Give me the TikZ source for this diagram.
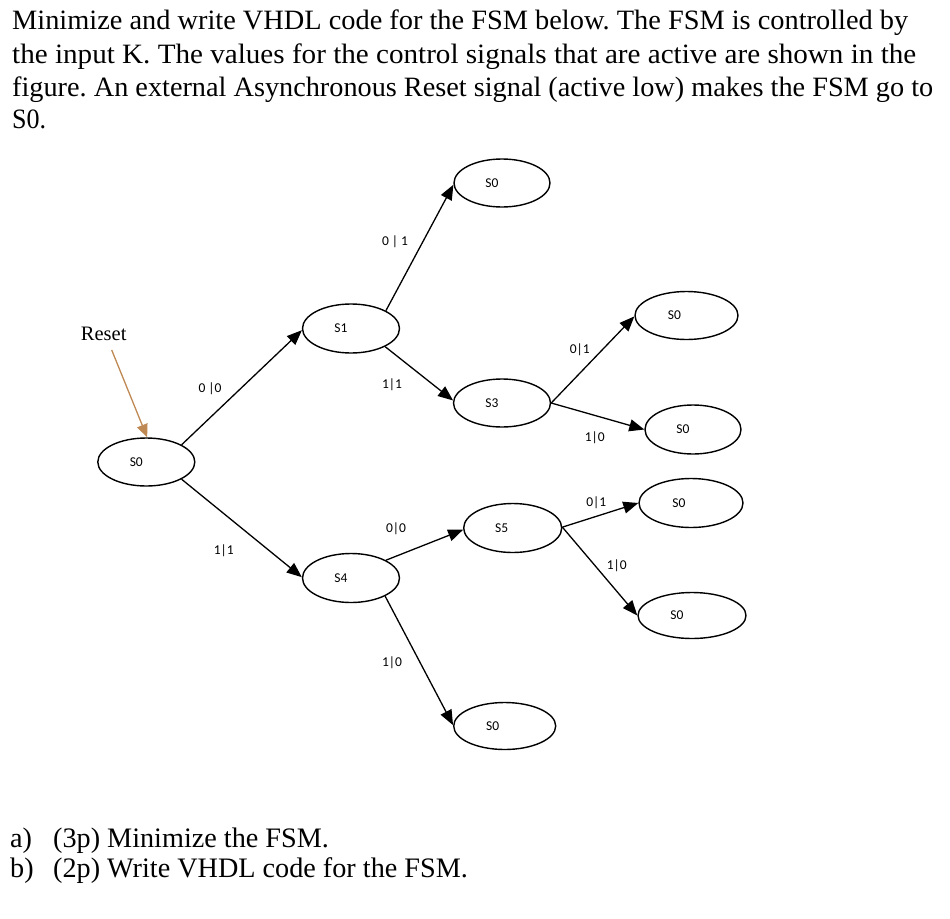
\documentclass[tikz,border=0pt]{standalone}
\usepackage{fontspec}
\setmainfont{Liberation Serif}
\newfontfamily\lblfont{Carlito}
\usetikzlibrary{shapes.geometric,arrows.meta}
\definecolor{resetc}{RGB}{191,137,84}
\frenchspacing
\begin{document}
\begin{tikzpicture}[x=1pt,y=-1pt,
  st/.style={draw, ellipse, line width=1.4pt, inner sep=0pt},
  edge/.style={line width=1.3pt, -{Triangle[length=15pt,width=12pt]}},
  lbl/.style={font=\lblfont\fontsize{13.5}{16}\selectfont, inner sep=0pt},
  txt/.style={anchor=base west, inner sep=0pt, font=\fontsize{28}{32}\selectfont},
  txtb/.style={anchor=base west, inner sep=0pt, font=\fontsize{28.2}{32}\selectfont}]
\useasboundingbox[fill=white] (0,0) rectangle (950,918);

% question text
\node[txt] (l1) at (12,29.3) {\resizebox{896pt}{\height}{Minimize and write VHDL code for the FSM below. The FSM is controlled by}};
\node[txt] (l2) at (12,63.3) {\resizebox{904pt}{\height}{the input K. The values for the control signals that are active are shown in the}};
\node[txt] (l3) at (12,96) {\resizebox{921pt}{\height}{figure. An external Asynchronous Reset signal (active low) makes the FSM go to}};
\node[txt] (l4) at (12,128.3) {\resizebox{34pt}{\height}{S0.}};

\node[txtb] (qa) at (10,847.3) {a)};
\node[txtb] (qat) at (53,847.3) {(3p) Minimize the FSM.};
\node[txtb] (qb) at (10,877.7) {b)};
\node[txtb] (qbt) at (53,877.7) {(2p) Write VHDL code for the FSM.};

% states
\node[st, minimum width=97pt, minimum height=48pt, label={[lbl,xshift=-10pt]center:S0}] (s0) at (146.3,462) {};
\node[st, minimum width=97pt, minimum height=49pt, label={[lbl,xshift=-10pt]center:S1}] (s1) at (351,328.5) {};
\node[st, minimum width=96pt, minimum height=48pt, label={[lbl,xshift=-10pt]center:S0}] (t0) at (502,183) {};
\node[st, minimum width=97pt, minimum height=48pt, label={[lbl,xshift=-10pt]center:S3}] (s3) at (502,403) {};
\node[st, minimum width=103pt, minimum height=48pt, label={[lbl,xshift=-12pt]center:S0}] (r1) at (686.5,315.5) {};
\node[st, minimum width=96pt, minimum height=49pt, label={[lbl,xshift=-10pt]center:S0}] (r2) at (693,429.5) {};
\node[st, minimum width=104pt, minimum height=49pt, label={[lbl,xshift=-12pt]center:S0}] (r3) at (691,503) {};
\node[st, minimum width=108pt, minimum height=46pt, label={[lbl,xshift=-15pt]center:S0}] (r4) at (692,615.5) {};
\node[st, minimum width=98pt, minimum height=49pt, label={[lbl,xshift=-11pt]center:S5}] (s5) at (512.7,528) {};
\node[st, minimum width=97pt, minimum height=49pt, label={[lbl,xshift=-10pt]center:S4}] (s4) at (351,578) {};
\node[st, minimum width=102pt, minimum height=47pt, label={[lbl,xshift=-12pt]center:S0}] (b0) at (504.7,726) {};

% reset
\node[inner sep=0pt, anchor=base, font=\fontsize{20.5}{24}\selectfont] (reset) at (103.7,340) {Reset};
\coordinate (rs) at (111.7,350);
\draw[resetc, line width=1.3pt, -{Triangle[length=13pt,width=11pt]}] (rs) -- (s0.88);

% transitions
\draw[edge] (s0.26) -- (s1.182);
\draw[edge] (s0.334) -- (s4.179);
\draw[edge] (s1.27) -- (t0.182);
\draw[edge] (s1.332) -- (s3.177);
\draw[edge] (s4.27) -- (s5.182);
\draw[edge] (s4.332) -- (b0.179);
\draw[edge] (s3.0) -- (r1.181);
\draw[edge] (s3.0) -- (r2.180);
\draw[edge] (s5.1) -- (r3.180);
\draw[edge] (s5.1) -- (r4.180);

% transition labels
\node[lbl] (e1) at (210,389) {0 |0};
\node[lbl] (e2) at (223.7,550.7) {1|1};
\node[lbl] (e3) at (395,242) {0 | 1};
\node[lbl] (e4) at (392,385) {1|1};
\node[lbl] (e5) at (396,529) {0|0};
\node[lbl] (e6) at (392,663) {1|0};
\node[lbl] (e7) at (579.7,350) {0|1};
\node[lbl] (e8) at (594.7,437.7) {1|0};
\node[lbl] (e9) at (596.3,502.3) {0|1};
\node[lbl] (e10) at (616.7,566) {1|0};
\end{tikzpicture}
\end{document}
